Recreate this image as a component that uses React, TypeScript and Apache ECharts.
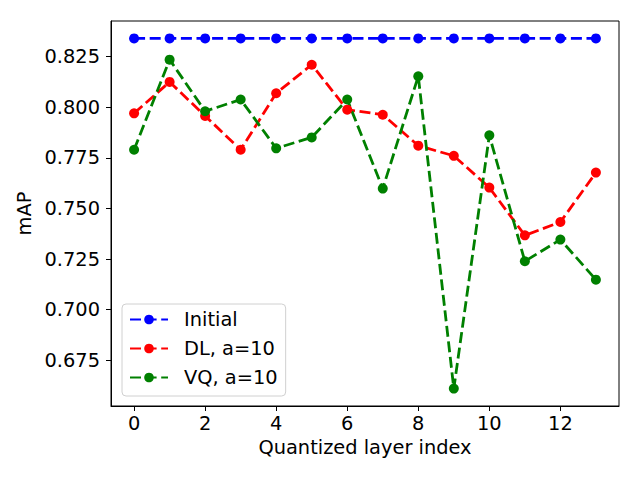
import React, { useEffect, useRef } from 'react';
import * as echarts from 'echarts';

const layerIndex = [0, 1, 2, 3, 4, 5, 6, 7, 8, 9, 10, 11, 12, 13];
const initialMap = [0.834, 0.834, 0.834, 0.834, 0.834, 0.834, 0.834, 0.834, 0.834, 0.834, 0.834, 0.834, 0.834, 0.834];
const dlMap = [0.797, 0.8125, 0.7957, 0.779, 0.8069, 0.821, 0.7988, 0.7963, 0.781, 0.776, 0.7603, 0.7367, 0.7433, 0.7677];
const vqMap = [0.779, 0.8235, 0.798, 0.8038, 0.7797, 0.7851, 0.8038, 0.7598, 0.8153, 0.661, 0.7861, 0.7239, 0.7346, 0.7148];
const xTicks = [0, 2, 4, 6, 8, 10, 12];
const yTicks = [0.675, 0.7, 0.725, 0.75, 0.775, 0.8, 0.825];

const FONT = 'DejaVu Sans';
const FS = 19.4;

const App: React.FC = () => {
  const chartRef = useRef<HTMLDivElement>(null);

  useEffect(() => {
    if (!chartRef.current) return;
    const chart = echarts.init(chartRef.current, null, { renderer: 'svg' });

    const makeSeries = (name: string, values: number[], color: string) => ({
      name,
      type: 'line',
      data: layerIndex.map((x, i) => [x, values[i]]),
      symbol: 'circle',
      symbolSize: 10,
      itemStyle: { color },
      lineStyle: { color, width: 2.8, type: [11, 4.6] },
      emphasis: { disabled: true },
    });

    chart.setOption({
      animation: false,
      textStyle: { fontFamily: FONT },
      grid: {
        left: 111,
        top: 21,
        right: 21,
        bottom: 74,
        show: true,
        borderColor: '#000',
        borderWidth: 1,
        backgroundColor: 'transparent',
      },
      xAxis: {
        type: 'value',
        min: -0.65,
        max: 13.65,
        name: 'Quantized layer index',
        nameLocation: 'middle',
        nameGap: 31,
        nameTextStyle: { color: '#000', fontSize: FS, fontFamily: FONT },
        axisLine: { show: true, onZero: false, lineStyle: { color: '#000', width: 1 } },
        axisTick: { show: true, length: 5, customValues: xTicks, lineStyle: { color: '#000' } },
        axisLabel: { color: '#000', fontSize: FS, margin: 8, customValues: xTicks, fontFamily: FONT },
        splitLine: { show: false },
      },
      yAxis: {
        type: 'value',
        min: 0.6524,
        max: 0.8426,
        name: 'mAP',
        nameLocation: 'middle',
        nameGap: 66,
        nameTextStyle: { color: '#000', fontSize: FS, fontFamily: FONT },
        axisLine: { show: true, onZero: false, lineStyle: { color: '#000', width: 1 } },
        axisTick: { show: true, length: 5, customValues: yTicks, lineStyle: { color: '#000' } },
        axisLabel: {
          color: '#000',
          fontSize: FS,
          margin: 11,
          customValues: yTicks,
          fontFamily: FONT,
          formatter: (v: number) => v.toFixed(3),
        },
        splitLine: { show: false },
      },
      legend: {
        orient: 'vertical',
        left: 122,
        top: 304,
        padding: [6, 8, 9, 7],
        itemWidth: 38,
        itemHeight: 12,
        itemGap: 10,
        backgroundColor: '#fff',
        borderColor: '#d0d0d0',
        borderWidth: 1,
        borderRadius: 4,
        textStyle: { color: '#000', fontSize: FS, lineHeight: 19, fontFamily: FONT, padding: [0, 0, 0, 11] },
        data: ['Initial', 'DL, a=10', 'VQ, a=10'],
      },
      series: [
        makeSeries('Initial', initialMap, '#0000ff'),
        makeSeries('DL, a=10', dlMap, '#ff0000'),
        makeSeries('VQ, a=10', vqMap, '#008000'),
      ],
    });

    return () => {
      chart.dispose();
    };
  }, []);

  return (
    <div
      ref={chartRef}
      style={{ position: 'fixed', left: 0, top: 0, width: 640, height: 480, background: '#fff' }}
    />
  );
};

export default App;
